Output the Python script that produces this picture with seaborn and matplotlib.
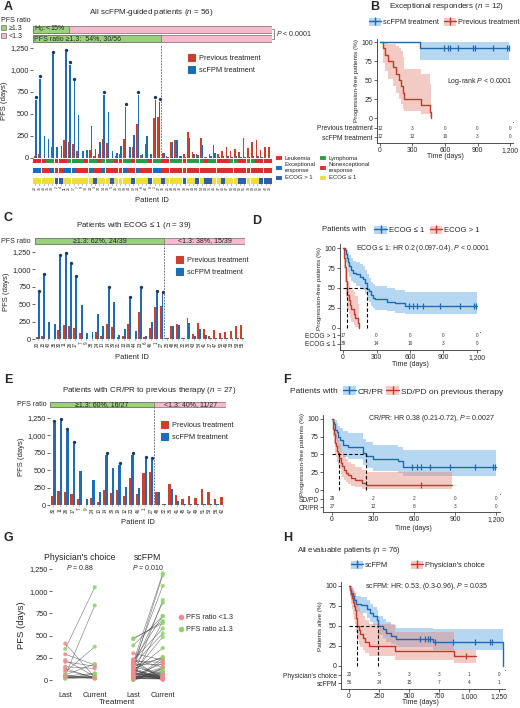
"""
plot.py

scFPM figure: per-patient PFS bars (A, C, E), Kaplan-Meier curves (B, D, F, H)
and paired PFS plot (G)
"""

import numpy as np
import pandas as pd
import seaborn as sns
from matplotlib import pyplot as plt
from matplotlib.patches import Patch
from matplotlib.lines import Line2D
from matplotlib.ticker import StrMethodFormatter

sns.set_theme(style='white', context='paper')
plt.rcParams['font.family'] = ['Liberation Sans', 'DejaVu Sans']
plt.rcParams['mathtext.fontset'] = 'custom'
plt.rcParams['mathtext.rm'] = 'Liberation Sans'
plt.rcParams['mathtext.it'] = 'Liberation Sans:italic'
plt.rcParams['axes.linewidth'] = 0.6
plt.rcParams['axes.edgecolor'] = '#333333'

#------------------------------------------------------------------------------
# Data: panel A (all scFPM-guided patients); C and E are subsets of it
#------------------------------------------------------------------------------
patient_id = [20, 15, 40, 35, 30, 2, 4, 11, 26, 17, 7, 9, 38, 24, 3, 10, 14, 39, 5, 21,
              13, 19, 44, 12, 23, 6, 46, 8, 1, 27, 16, 25, 48, 28, 32, 18, 36, 43, 34, 54,
              29, 31, 41, 37, 45, 47, 50, 49, 52, 51, 33, 53, 55, 56, 42, 22]
prev_pfs = [25, 40, 5, 5, 130, 5, 5, 200, 180, 155, 85, 5, 5, 95, 25, 50, 215, 170, 5, 25,
            50, 220, 5, 125, 390, 35, 155, 5, 460, 470, 55, 20, 180, 210, 20, 40, 300, 70, 45, 230,
            15, 45, 150, 50, 80, 130, 80, 105, 70, 230, 115, 185, 205, 90, 120, 120]
scfpm_pfs = [660, 900, 250, 220, 1180, 130, 135, 1200, 1060, 870, 485, 85, 95, 360, 100, 185, 720, 525, 75, 60,
             140, 580, 120, 260, 720, 50, 250, 45, 660, 640, 60, 15, 180, 200, 20, 10, 225, 50, 30, 145,
             10, 20, 60, 15, 20, 20, 10, 20, 10, 10, 15, 20, 20, 10, 5, 5]
# 1 = still progression-free on scFPM (dot above bar)
ongoing = '1100100111' '0000001000' '0100100011' '0000000000' '0000000000' '000000'
# L = leukemia, Y = lymphoma
disease = 'LLLYYLLLYY' 'YYLYYLYYYL' 'LYYLYYYLYY' 'LLYYYLYYYY' 'LYYLLLYYLL' 'YYLLLL'
# E = exceptional response, N = nonexceptional
response = 'EENNENNEEE' 'NNNENNENNN' 'NENNENNNEE' 'NNNNNNNNNN' 'NNNNNNNNNN' 'NNNNNN'
# G = ECOG <= 1, P = ECOG > 1
ecog = 'GGGGGPPGGG' 'GGGGPGGGPG' 'GGGPGGGPGG' 'PGGGGPGGPG' 'PPGGPGGGPP' 'GGGPPP'
# C = CR/PR, S = SD/PD on previous therapy
prior_resp = 'SSSSCSSCCC' 'CCSCSCCCSS' 'SCSCCSCSCC' 'SSCSCSCSSS' 'SSCSCCSCSC' 'SCSCCS'

h0_share = 0.15
a_strip_texts = ['H$_0$: <15%', 'PFS ratio \u22651.3:  54%, 30/56']
a_pvalue = '$P$ < 0.0001'
c_strip_texts = ['\u22651.3: 62%, 24/39', '<1.3: 38%, 15/39']
e_strip_texts = ['\u22651.3: 60%, 16/27', '<1.3: 40%, 11/27']

# G: physician's choice patients (last vs current PFS)
phys_last = [350, 50, 90, 410, 290, 225, 205, 150, 110, 60, 20, 55, 40, 30, 25, 130, 35, 15, 45, 40]
phys_current = [1045, 840, 375, 30, 170, 40, 155, 130, 30, 180, 70, 20, 35, 25, 45, 20, 15, 30, 75, 25]
g_pvalues = ['$P$ = 0.88', '$P$ = 0.010']

# B: exceptional responders
b_sc_t = [0, 370, 1190]
b_sc_s = [100, 91.7, 91.7]
b_sc_lo = [100, 77, 77]
b_sc_hi = [100, 100, 100]
b_sc_cens = [590, 625, 650, 720, 855, 880, 1040, 1175, 1188]
b_pr_t = [0, 24, 45, 75, 120, 150, 174, 195, 210, 225, 376, 458, 466]
b_pr_s = [100, 91.7, 83.3, 75, 66.7, 58.3, 50, 41.7, 33.3, 25, 16.7, 8.3, 0]
b_pr_lo = [100, 73, 62, 52, 42, 33, 25, 18, 12, 9, 5, 1, 0]
b_pr_hi = [100, 100, 99, 98, 97, 95, 92, 88, 80, 65, 58, 45, 0]
b_times = [0, 300, 600, 900, 1200]
b_risk_pr = [12, 3, 0, 0, 0]
b_risk_sc = [12, 12, 10, 3, 0]

# D: ECOG <= 1 vs ECOG > 1
d_g_t = [0, 15, 25, 35, 45, 55, 70, 90, 120, 150, 180, 200, 212, 235, 255, 270, 290, 390, 470, 555, 1200]
d_g_s = [100, 97, 92, 87, 82, 77, 72, 69, 67, 64, 61, 56, 49, 46, 41, 38, 36, 33, 31, 28, 28]
d_g_lo = [100, 90, 83, 77, 70, 64, 59, 56, 53, 50, 47, 42, 35, 32, 28, 25, 23, 21, 19, 17, 17]
d_g_hi = [100, 100, 100, 98, 95, 91, 87, 84, 82, 80, 78, 73, 67, 63, 58, 55, 52, 50, 48, 45, 45]
d_g_cens = [594, 630, 660, 719, 868, 1047, 1173, 1191]
d_p_t = [0, 5, 10, 15, 20, 24, 28, 31, 33, 40, 50, 60, 75, 95, 110, 130, 146]
d_p_s = [100, 94, 88, 82, 76, 71, 65, 59, 47, 41, 35, 29, 24, 18, 12, 6, 0]
d_p_lo = [100, 83, 74, 66, 58, 52, 45, 39, 28, 22, 17, 12, 8, 4, 1, 0, 0]
d_p_hi = [100, 100, 100, 98, 95, 90, 84, 78, 65, 58, 52, 50, 48, 45, 40, 30, 0]
d_medians = [33, 212]
d_risk_p = [17, 0, 0, 0, 0]
d_risk_g = [39, 14, 10, 3, 0]

# F: CR/PR vs SD/PD on previous therapy
f_c_t = [0, 8, 15, 25, 35, 45, 60, 80, 120, 229, 246, 300, 485, 520, 1200]
f_c_s = [100, 96, 93, 85, 81, 74, 70, 64, 61, 52, 48, 44, 41, 33, 33]
f_c_lo = [100, 88, 82, 72, 66, 58, 53, 47, 44, 35, 31, 27, 24, 20, 20]
f_c_hi = [100, 100, 100, 98, 95, 90, 87, 83, 80, 72, 68, 64, 61, 56, 56]
f_c_cens = [583, 620, 649, 717, 863, 1046, 1180, 1192]
f_s_t = [0, 5, 10, 15, 20, 25, 30, 35, 40, 45, 54, 65, 75, 90, 105, 120, 140, 170, 220, 245, 875]
f_s_s = [100, 93, 86, 79, 72, 66, 62, 59, 55, 52, 45, 38, 34, 28, 24, 21, 17, 14, 10, 7, 7]
f_s_lo = [100, 84, 75, 66, 58, 51, 47, 43, 39, 35, 29, 23, 19, 14, 11, 8, 6, 4, 2, 1, 1]
f_s_hi = [100, 100, 98, 94, 89, 84, 80, 77, 74, 71, 65, 58, 54, 48, 44, 40, 36, 32, 28, 26, 26]
f_s_cens = [650]
f_medians = [54, 246]
f_risk_s = [29, 2, 2, 0, 0]
f_risk_c = [27, 12, 8, 3, 0]

# H: all evaluable patients, overall survival
h_sc_t = [0, 5, 10, 20, 30, 45, 60, 100, 150, 175, 200, 230, 244, 280, 305, 350, 395, 700, 1285]
h_sc_s = [100, 98, 95, 91, 87, 82, 78, 76, 71, 66, 62, 57, 50, 46, 41, 37, 34, 30, 0]
h_sc_lo = [100, 93, 88, 83, 78, 73, 68, 66, 60, 55, 51, 46, 39, 35, 30, 27, 24, 20, 20]
h_sc_hi = [100, 100, 100, 98, 95, 91, 88, 86, 82, 78, 74, 70, 63, 59, 55, 51, 48, 46, 46]
h_sc_cens = [592, 633, 661, 675, 717, 869, 1050, 1175, 1189]
h_pc_t = [0, 8, 15, 22, 30, 40, 50, 55, 60, 65, 69, 80, 95, 115, 135, 165, 385, 875, 1058]
h_pc_s = [100, 95, 90, 85, 80, 75, 70, 65, 60, 55, 50, 45, 40, 35, 30, 25, 19, 12.5, 12.5]
h_pc_lo = [100, 86, 78, 71, 64, 58, 52, 47, 42, 37, 32, 28, 24, 20, 16, 12, 8, 4, 4]
h_pc_hi = [100, 100, 100, 99, 97, 94, 91, 87, 84, 80, 76, 72, 67, 62, 57, 52, 42, 20, 20]
h_pc_cens = [975]
h_medians = [69, 244]
h_times = [0, 250, 500, 750, 1000, 1250]
h_risk_pc = [20, 5, 3, 3, 1, 0]
h_risk_sc = [56, 24, 15, 7, 4, 1]

#------------------------------------------------------------------------------
# Colours and helpers
#------------------------------------------------------------------------------
RED, BLUE = '#C9402F', '#1C6DB5'
GREEN, PINK, EDGE = '#9AD27C', '#F7B9CC', '#707070'
LEUK, LYMPH = '#D8302E', '#2E9A48'
ECOG_HI, ECOG_LO = '#2E5DAA', '#EEDD3A'
KM_BLUE, KM_BLUE_F = '#1F69B0', '#5FA8E0'
KM_RED, KM_RED_F = '#C0392B', '#E58A7E'
G_PINK, G_GREEN = '#F08A8F', '#8ED46E'

W, H = 520, 708
fig = plt.figure(figsize=(W / 100, H / 100), dpi=100)


def box(x0, y0, x1, y1):
    return fig.add_axes([x0 / W, 1 - y1 / H, (x1 - x0) / W, (y1 - y0) / H])


def fxy(x, y):
    return (x / W, 1 - y / H)


def ftext(x, y, s, **kw):
    kw.setdefault('va', 'center')
    fig.text(x / W, 1 - y / H, s, **kw)


dfA = pd.DataFrame({'pid': patient_id, 'prev': prev_pfs, 'scfpm': scfpm_pfs,
                    'ongoing': [c == '1' for c in ongoing], 'disease': list(disease),
                    'resp': list(response), 'ecog': list(ecog), 'prior': list(prior_resp)})
dfA['ratio'] = dfA.scfpm / dfA.prev


def pfs_bars(ax, sub, top):
    sub = sub.reset_index(drop=True)
    long = sub.reset_index().melt(id_vars=['index'], value_vars=['prev', 'scfpm'],
                                  var_name='treat', value_name='pfs')
    sns.barplot(data=long, x='index', y='pfs', hue='treat', hue_order=['prev', 'scfpm'],
                palette=[RED, BLUE], saturation=1, width=0.72, errorbar=None,
                legend=False, linewidth=0, ax=ax)
    on = sub[sub.ongoing]
    ax.plot(on.index + 0.18, on.scfpm + 30, ls='none', marker='o', ms=1.4, color='#163a63')
    n = len(sub)
    n_hi = int((sub.ratio >= 1.3).sum())
    ax.axvline(n_hi - 0.5, color='#555555', ls=(0, (2, 1.5)), lw=0.6)
    ax.set_xticks([])
    ax.set_xlim(-0.5, n - 0.5)
    ax.set_ylim(0, top)
    ax.set_yticks([0, 250, 500, 750, 1000, 1250])
    ax.yaxis.set_major_formatter(StrMethodFormatter('{x:,.0f}'))
    ax.tick_params(axis='y', left=True, length=2, width=0.5, labelsize=5.3, pad=1)
    ax.set_ylabel('PFS (days)', fontsize=5.5, labelpad=2)
    ax.set_xlabel('')
    sns.despine(ax=ax, left=True, bottom=True)
    return n, n_hi


def ratio_strip(ax, n, n_hi, texts):
    ax.barh(0, n, left=-0.5, height=1, color=PINK, edgecolor=EDGE, lw=0.5)
    ax.barh(0, n_hi, left=-0.5, height=1, color=GREEN, edgecolor=EDGE, lw=0.5)
    ax.text(n_hi / 2 - 0.5, 0, texts[0], ha='center', va='center', fontsize=5, color='#222222')
    ax.text((n_hi + n) / 2 - 0.5, 0, texts[1], ha='center', va='center', fontsize=5, color='#222222')
    ax.set_xlim(-0.5, n - 0.5)
    ax.set_ylim(-0.6, 0.6)
    ax.axis('off')


def id_ticks(ax, ids, size=3.3):
    ax.set_xticks(range(len(ids)))
    ax.set_xticklabels([str(i) for i in ids], rotation=90, fontsize=size)
    ax.tick_params(axis='x', bottom=True, length=1, width=0.4, pad=1)


def treat_legend(ax, x, y):
    ax.legend(handles=[Patch(color=RED), Patch(color=BLUE)],
              labels=['Previous treatment', 'scFPM treatment'], loc='upper left',
              bbox_to_anchor=fxy(x, y), bbox_transform=fig.transFigure, frameon=False,
              fontsize=5.3, handlelength=1.0, handleheight=1.1, labelspacing=0.55,
              handletextpad=0.5, borderpad=0, borderaxespad=0)


def km_curve(ax, t, s, lo, hi, cens, line, fill):
    t = np.array(t)
    s = np.array(s)
    ax.fill_between(t, lo, hi, step='post', color=fill, alpha=0.45, lw=0)
    ax.step(t, s, where='post', color=line, lw=1.0)
    if len(cens):
        c = np.array(cens)
        cy = s[np.searchsorted(t, c, side='right') - 1]
        ax.plot(c, cy, ls='none', marker='|', ms=5, mew=0.9, color=line)


def km_handle(line, fill):
    return (Patch(facecolor=fill, alpha=0.45, edgecolor='none'),
            Line2D([], [], color=line, lw=1.0, marker='|', ms=6, mew=1.0))


def km_frame(x0, y0, x1, y1, yr, xlim, ylim, times, rows_y, row_labels, counts, ylab, tx, ty):
    ax = box(x0, y0, x1, y1)
    rax = box(x0, y1, x1, yr)
    for a in (ax, rax):
        a.set_xlim(xlim)
        sns.despine(ax=a)
    ax.set_ylim(ylim)
    ax.set_xticks([])
    ax.set_yticks([0, 25, 50, 75, 100])
    ax.tick_params(axis='y', left=True, length=2, width=0.5, labelsize=5, pad=1)
    ax.set_ylabel(ylab, fontsize=4.6, labelpad=1.5)
    rax.set_ylim(0, 1)
    ys = [(yr - py) / (yr - y1) for py in rows_y]
    for yy, cnt in zip(ys, counts):
        for xx, c in zip(times, cnt):
            rax.text(xx, yy, str(c), ha='center', va='center', fontsize=3.4, color='#333333')
    rax.set_yticks(ys)
    rax.set_yticklabels(row_labels, fontsize=4.8)
    rax.set_xticks(times)
    rax.xaxis.set_major_formatter(StrMethodFormatter('{x:,.0f}'))
    rax.tick_params(axis='both', left=True, bottom=True, length=2, width=0.5, labelsize=4.9, pad=1)
    rax.tick_params(axis='y', labelsize=4.8)
    ftext(tx, ty, 'Time (days)', ha='center', fontsize=5)
    return ax


def medians(ax, meds):
    ax.plot([0, max(meds)], [50, 50], color='black', ls=(0, (3, 2)), lw=0.8)
    for m in meds:
        ax.plot([m, m], [0, 50], color='black', ls=(0, (3, 2)), lw=0.8)


def panel_letter(x, y, s):
    ftext(x, y, s, fontsize=9, fontweight='bold')

#------------------------------------------------------------------------------
# Panel A
#------------------------------------------------------------------------------
panel_letter(4, 7, 'A')
ftext(151, 13, 'All scFPM-guided patients ($n$ = %d)' % len(dfA), ha='center', fontsize=5.8)

nA = len(dfA)
nA_hi = int((dfA.ratio >= 1.3).sum())
axs = box(33, 24, 272, 43.5)
axs.barh(1, nA, left=-0.5, height=0.7, color=PINK, edgecolor=EDGE, lw=0.5)
axs.barh(1, h0_share * nA, left=-0.5, height=0.7, color=GREEN, edgecolor=EDGE, lw=0.5)
axs.barh(0, nA, left=-0.5, height=0.7, color=PINK, edgecolor=EDGE, lw=0.5)
axs.barh(0, nA_hi, left=-0.5, height=0.7, color=GREEN, edgecolor=EDGE, lw=0.5)
axs.text(-0.2, 1, a_strip_texts[0], va='center', fontsize=5)
axs.text(-0.2, 0, a_strip_texts[1], va='center', fontsize=5)
axs.plot([nA - 0.4, nA, nA, nA - 0.4], [1, 1, 0, 0], color='#777777', lw=0.6, clip_on=False)
axs.text(nA + 0.5, 0.5, a_pvalue, va='center', fontsize=5)
axs.set_xlim(-0.5, nA - 0.5)
axs.set_ylim(-0.5, 1.55)
axs.axis('off')

fig.legend(handles=[Patch(fc=GREEN, ec=EDGE, lw=0.5), Patch(fc=PINK, ec=EDGE, lw=0.5)],
           labels=['\u22651.3', '<1.3'], title='PFS ratio', loc='upper left',
           bbox_to_anchor=fxy(0, 16), fontsize=5, title_fontsize=5, frameon=False,
           handlelength=0.7, handleheight=0.7, handletextpad=0.3, labelspacing=0.1,
           borderpad=0.2, borderaxespad=0, alignment='left')

axA = box(33, 43.5, 272, 158)
pfs_bars(axA, dfA, 1250 * (158 - 43.5) / 110)
treat_legend(axA, 188, 54)

strips = [(158.5, 163, 'disease', {'L': LEUK, 'Y': LYMPH}),
          (167.5, 172.5, 'resp', {'E': BLUE, 'N': LEUK}),
          (178, 183.5, 'ecog', {'P': ECOG_HI, 'G': ECOG_LO})]
for y0, y1, col, cmap in strips:
    sx = box(33, y0, 272, y1)
    sx.bar(range(nA), 1, width=0.92, color=[cmap[v] for v in dfA[col]], lw=0)
    sx.set_xlim(-0.5, nA - 0.5)
    sx.set_ylim(0, 1)
    sx.set_yticks([])
    sns.despine(ax=sx, left=True, bottom=True)
    if col == 'ecog':
        id_ticks(sx, dfA.pid, size=2.6)
    else:
        sx.set_xticks([])
ftext(152, 201, 'Patient ID', ha='center', fontsize=5.5)

fig.legend(handles=[Patch(fc=LEUK), Patch(fc=BLUE), Patch(fc=ECOG_HI),
                    Patch(fc=LYMPH), Patch(fc=LEUK), Patch(fc=ECOG_LO)],
           labels=['Leukemia', 'Exceptional\nresponse', 'ECOG > 1',
                   'Lymphoma', 'Nonexceptional\nresponse', 'ECOG \u2264 1'],
           ncol=2, loc='upper left', bbox_to_anchor=fxy(275, 155), fontsize=4.3,
           frameon=False, handlelength=1.2, handleheight=1.0, labelspacing=0.25,
           columnspacing=0.6, handletextpad=0.4, borderpad=0, borderaxespad=0)

#------------------------------------------------------------------------------
# Panel C (ECOG <= 1) and E (CR/PR to previous therapy)
#------------------------------------------------------------------------------
dfC = dfA[dfA.ecog == 'G'].reset_index(drop=True)
panel_letter(4, 218, 'C')
ftext(134, 225, 'Patients with ECOG \u2264 1 ($n$ = %d)' % len(dfC), ha='center', fontsize=5.8)
ftext(31, 241, 'PFS ratio', ha='right', fontsize=5)
bC = box(35, 245, 245, 339)
nC, nC_hi = pfs_bars(bC, dfC, 1250 * (339 - 245) / 87)
id_ticks(bC, dfC.pid)
ratio_strip(box(35, 237, 245, 245), nC, nC_hi, c_strip_texts)
treat_legend(bC, 176, 256)
ftext(132, 358, 'Patient ID', ha='center', fontsize=5.5)

dfE = dfA[dfA.prior == 'C'].reset_index(drop=True)
panel_letter(4, 380, 'E')
ftext(149, 390, 'Patients with CR/PR to previous therapy ($n$ = %d)' % len(dfE), ha='center', fontsize=5.8)
ftext(47, 404.5, 'PFS ratio', ha='right', fontsize=5)
bE = box(50, 408, 226, 505)
nE, nE_hi = pfs_bars(bE, dfE, 1250 * (505 - 408) / 87)
id_ticks(bE, dfE.pid)
ratio_strip(box(50, 401, 226, 408), nE, nE_hi, e_strip_texts)
treat_legend(bE, 161, 421)
ftext(138, 523, 'Patient ID', ha='center', fontsize=5.5)

#------------------------------------------------------------------------------
# Panel B
#------------------------------------------------------------------------------
panel_letter(370, 7, 'B')
ftext(447, 7, 'Exceptional responders ($n$ = 12)', ha='center', fontsize=5.8)
axB = km_frame(377, 39, 513, 122.2, 143, (-27, 1226), (-5.5, 104), b_times,
               [128, 137], ['Previous treatment', 'scFPM treatment'], [b_risk_pr, b_risk_sc],
               'Progression-free patients (%)', 445, 157)
km_curve(axB, b_pr_t, b_pr_s, b_pr_lo, b_pr_hi, [], KM_RED, KM_RED_F)
km_curve(axB, b_sc_t, b_sc_s, b_sc_lo, b_sc_hi, b_sc_cens, KM_BLUE, KM_BLUE_F)
axB.text(620, 48, 'Log-rank $P$ < 0.0001', fontsize=5, va='center')
fig.legend(handles=[km_handle(KM_BLUE, KM_BLUE_F), km_handle(KM_RED, KM_RED_F)],
           labels=['scFPM treatment', 'Previous treatment'], ncol=2, loc='center',
           bbox_to_anchor=fxy(444, 22), fontsize=5.3, frameon=False, handlelength=1.6,
           handleheight=1.3, columnspacing=0.7, handletextpad=0.3)

#------------------------------------------------------------------------------
# Panel D
#------------------------------------------------------------------------------
panel_letter(252, 221, 'D')
ftext(322, 230, 'Patients with', fontsize=5.5)
fig.legend(handles=[km_handle(KM_BLUE, KM_BLUE_F), km_handle(KM_RED, KM_RED_F)],
           labels=['ECOG \u2264 1', 'ECOG > 1'], ncol=2, loc='center',
           bbox_to_anchor=fxy(427, 230), fontsize=5.5, frameon=False, handlelength=1.6,
           handleheight=1.3, columnspacing=0.7, handletextpad=0.3)
axD = km_frame(340, 244, 480, 332, 350, (-27, 1227), (-5, 105), b_times,
               [335.5, 344], ['ECOG > 1', 'ECOG \u2264 1'], [d_risk_p, d_risk_g],
               'Progression-free patients (%)', 410, 364)
km_curve(axD, d_g_t, d_g_s, d_g_lo, d_g_hi, d_g_cens, KM_BLUE, KM_BLUE_F)
km_curve(axD, d_p_t, d_p_s, d_p_lo, d_p_hi, [], KM_RED, KM_RED_F)
medians(axD, d_medians)
axD.text(120, 100, 'ECOG \u2264 1: HR 0.2 (0.097-0.4), $P$ < 0.0001', fontsize=5, va='center')

#------------------------------------------------------------------------------
# Panel F
#------------------------------------------------------------------------------
panel_letter(283, 380, 'F')
ftext(290, 391, 'Patients with', fontsize=6)
fig.legend(handles=[km_handle(KM_BLUE, KM_BLUE_F), km_handle(KM_RED, KM_RED_F)],
           labels=['CR/PR', 'SD/PD on previous therapy'], ncol=2, loc='center',
           bbox_to_anchor=fxy(423, 391), fontsize=6, frameon=False, handlelength=1.6,
           handleheight=1.3, columnspacing=0.3, handletextpad=0.2)
axF = km_frame(323, 415, 500, 494, 512, (-66, 1229), (-5.6, 105.6), b_times,
               [499, 507], ['SD/PD', 'CR/PR'], [f_risk_s, f_risk_c],
               'Progression-free patients (%)', 413, 528)
km_curve(axF, f_c_t, f_c_s, f_c_lo, f_c_hi, f_c_cens, KM_BLUE, KM_BLUE_F)
km_curve(axF, f_s_t, f_s_s, f_s_lo, f_s_hi, f_s_cens, KM_RED, KM_RED_F)
medians(axF, f_medians)
axF.text(265, 100, 'CR/PR: HR 0.38 (0.21-0.72), $P$ = 0.0027', fontsize=5, va='center')

#------------------------------------------------------------------------------
# Panel H
#------------------------------------------------------------------------------
panel_letter(283, 538, 'H')
ftext(297, 550, 'All evaluable patients ($n$ = 76)', fontsize=5.6)
fig.legend(handles=[km_handle(KM_BLUE, KM_BLUE_F), km_handle(KM_RED, KM_RED_F)],
           labels=['scFPM', "Physician's choice"], ncol=2, loc='center',
           bbox_to_anchor=fxy(418, 565), fontsize=5.3, frameon=False, handlelength=1.6,
           handleheight=1.3, columnspacing=3.2, handletextpad=0.3)
axH = km_frame(341, 582, 505, 670, 689, (-67, 1300), (-5, 105), h_times,
               [675, 683], ["Physician's choice", 'scFPM'], [h_risk_pc, h_risk_sc],
               'Patients alive (%)', 420, 703)
km_curve(axH, h_sc_t, h_sc_s, h_sc_lo, h_sc_hi, h_sc_cens, KM_BLUE, KM_BLUE_F)
km_curve(axH, h_pc_t, h_pc_s, h_pc_lo, h_pc_hi, h_pc_cens, KM_RED, KM_RED_F)
medians(axH, h_medians)
axH.text(135, 100, 'scFPM: HR: 0.53, (0.3-0.96), $P$ = 0.035', fontsize=5, va='center')

#------------------------------------------------------------------------------
# Panel G
#------------------------------------------------------------------------------
panel_letter(4, 538, 'G')
dfG = pd.concat([
    pd.DataFrame({'facet': "Physician's choice", 'last': phys_last, 'current': phys_current}),
    pd.DataFrame({'facet': 'scFPM', 'last': dfA.prev, 'current': dfA.scfpm})], ignore_index=True)
dfG['pid'] = range(len(dfG))
dfG['group'] = np.where(dfG.current / dfG['last'] >= 1.3, 'hi', 'lo')
longG = dfG.melt(id_vars=['pid', 'facet', 'group'], value_vars=['last', 'current'],
                 var_name='when', value_name='pfs')
longG['x'] = longG.when.map({'last': 0, 'current': 1})

for (x0, x1), facet, pv in zip([(52, 108), (120, 176)], ["Physician's choice", 'scFPM'], g_pvalues):
    ax = box(x0, 565, x1, 684)
    sub = longG[longG.facet == facet]
    sns.lineplot(data=sub, x='x', y='pfs', units='pid', estimator=None, color='#444444',
                 lw=0.4, alpha=0.75, legend=False, ax=ax)
    sns.scatterplot(data=sub, x='x', y='pfs', hue='group', palette={'hi': G_GREEN, 'lo': G_PINK},
                    s=9, alpha=0.85, edgecolor='none', legend=False, ax=ax, zorder=3)
    ax.set_xlim(-0.45, 1.45)
    ax.set_ylim(-45, 1295)
    ax.set_xticks([0, 1])
    ax.set_xticklabels(['Last', 'Current'], fontsize=5.3)
    ax.tick_params(axis='x', pad=1)
    ax.set_xlabel('')
    ax.set_ylabel('')
    ax.set_yticks([0, 250, 500, 750, 1000, 1250])
    ax.yaxis.set_major_formatter(StrMethodFormatter('{x:,.0f}'))
    sns.despine(ax=ax, left=True, bottom=True)
    if facet == 'scFPM':
        ax.set_yticklabels([])
    else:
        ax.tick_params(axis='y', left=True, length=2, width=0.5, labelsize=5.3, pad=1)
    ftext((x0 + x1) / 2, 557, facet, ha='center', fontsize=6.3)
    ftext((x0 + x1) / 2, 568, pv, ha='center', fontsize=5)

ftext(21, 625, 'PFS (days)', ha='center', rotation=90, fontsize=6.8)
ftext(117, 702, 'Treatment', ha='center', fontsize=5.8)
fig.legend(handles=[Line2D([], [], ls='none', marker='o', ms=3, color=G_PINK),
                    Line2D([], [], ls='none', marker='o', ms=3, color=G_GREEN)],
           labels=['PFS ratio <1.3', 'PFS ratio \u22651.3'], loc='upper left',
           bbox_to_anchor=fxy(178, 614), fontsize=5.3, frameon=False, handlelength=0.8,
           handletextpad=0.3, labelspacing=0.7, borderpad=0, borderaxespad=0)

#------------------------------------------------------------------------------
# Save figure
#------------------------------------------------------------------------------
plt.savefig('out.png', dpi=100)
